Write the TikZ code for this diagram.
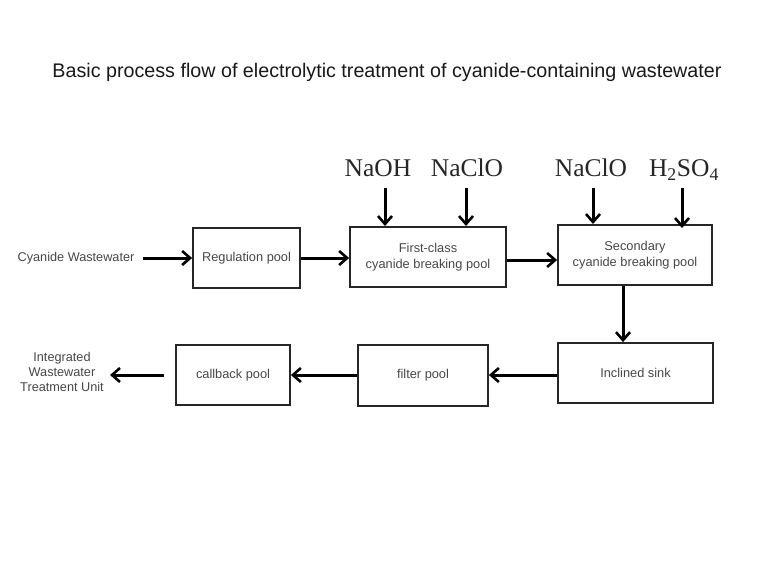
\documentclass[tikz,border=0pt]{standalone}
\usepackage{fontspec}
\setmainfont{Liberation Sans}
\newfontfamily\chemfont{Liberation Serif}
\usetikzlibrary{arrows.meta}
\begin{document}
\begin{tikzpicture}[x=1pt,y=-1pt,
  pool/.style={draw=black!85,line width=1.8pt,inner sep=0pt,text=black!72,font=\fontsize{12.8}{16}\selectfont,align=center},
  flow/.style={line width=3pt,-{Straight Barb[length=8pt,width=14pt,line width=2.6pt]}},
  chem/.style={font=\chemfont\fontsize{25.5}{28}\selectfont,text=black!85,inner sep=0pt},
  lbl/.style={text=black!72,font=\fontsize{12.7}{15}\selectfont,align=center,inner sep=0pt}]
\useasboundingbox (0,0) rectangle (768,576);
\node[text=black!90,font=\fontsize{19.7}{22}\selectfont,inner sep=0pt] (title) at (387,72) {Basic process flow of electrolytic treatment of cyanide-containing wastewater};
\node[pool,minimum width=107pt,minimum height=60pt] (reg) at (246.5,258) {Regulation pool};
\node[pool,minimum width=156pt,minimum height=60pt] (first) at (428,257) {First-class\\cyanide breaking pool};
\node[pool,minimum width=154pt,minimum height=60pt] (second) at (635,255) {Secondary\\cyanide breaking pool};
\node[pool,minimum width=155pt,minimum height=60pt] (sink) at (635.5,373) {Inclined sink};
\node[pool,minimum width=130pt,minimum height=61pt] (filter) at (423,375.5) {filter pool};
\node[pool,minimum width=114pt,minimum height=60pt] (callback) at (233,375) {callback pool};
\node[lbl] (src) at (76,258) {Cyanide Wastewater};
\node[lbl] (dst) at (62,372) {Integrated\\Wastewater\\Treatment Unit};
\node[chem] (naoh) at (378,168) {NaOH};
\node[chem] (naclo1) at (467,168) {NaClO};
\node[chem] (naclo2) at (591,168) {NaClO};
\node[chem] (h2so4) at (684,170) {H\textsubscript{2}SO\textsubscript{4}};
\coordinate (srcE) at (143,258);
\coordinate (dstE) at (110,375);
\coordinate (a1) at (385,188); \coordinate (b1) at (385,226);
\coordinate (a2) at (466,188); \coordinate (b2) at (466,226);
\coordinate (a3) at (593,188); \coordinate (b3) at (593,224);
\coordinate (a4) at (682,188); \coordinate (b4) at (682,228);
\draw[flow] (srcE) -- (reg.west);
\draw[flow] (reg.east) -- (first.west |- reg.east);
\draw[flow] (first.east |- 0,260) -- (second.west |- 0,260);
\draw[flow] (a1) -- (b1);
\draw[flow] (a2) -- (b2);
\draw[flow] (a3) -- (b3);
\draw[flow] (a4) -- (b4);
\draw[flow] (second.south -| 623,0) -- (sink.north -| 623,0);
\draw[flow] (sink.west |- 0,375) -- (filter.east |- 0,375);
\draw[flow] (filter.west |- 0,375) -- (callback.east |- 0,375);
\draw[flow] (callback.west |- 0,375) ++(-11,0) -- (dstE);
\end{tikzpicture}
\end{document}
